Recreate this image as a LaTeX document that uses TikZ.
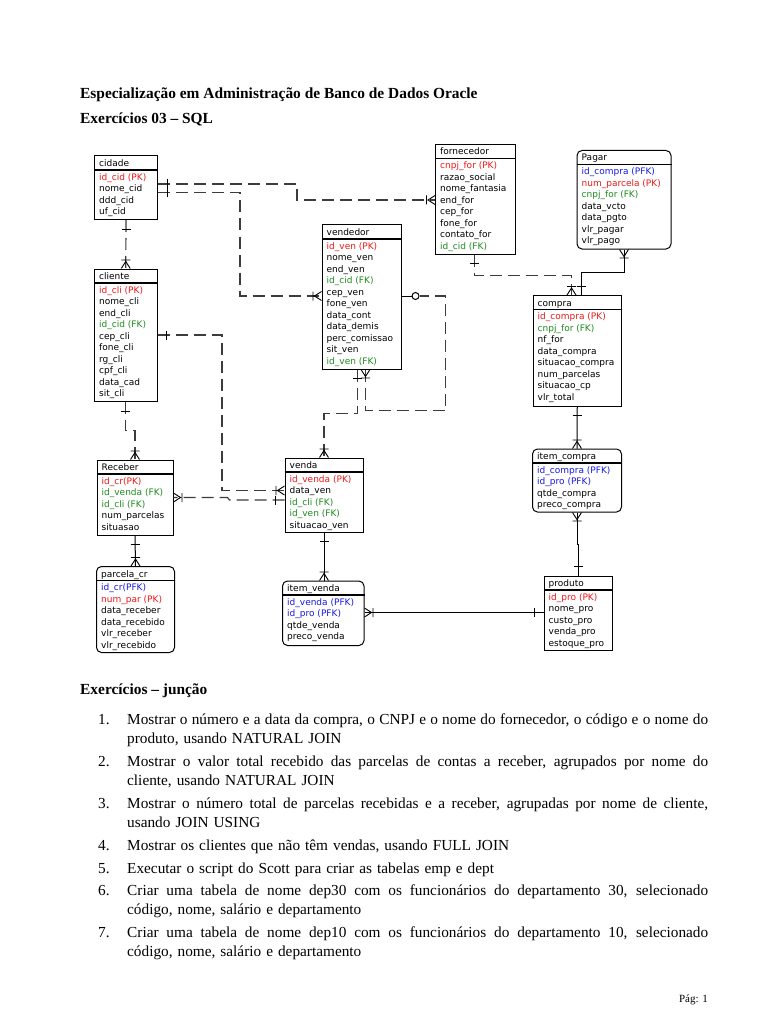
\documentclass[tikz,border=0pt]{standalone}
\usepackage{fontspec}
\setmainfont{Liberation Serif}
\newfontfamily\erfont{DejaVu Sans}
\usetikzlibrary{calc}
\definecolor{pkred}{RGB}{235,25,25}
\definecolor{fkgreen}{RGB}{30,140,30}
\definecolor{pfblue}{RGB}{25,25,225}
\definecolor{relgray}{RGB}{60,60,60}
\newcommand\pk[1]{\textcolor{pkred}{#1}}
\newcommand\fk[1]{\textcolor{fkgreen}{#1}}
\newcommand\pf[1]{\textcolor{pfblue}{#1}}
\newcommand\wl[2]{\makebox[#1pt][s]{#2}}
\newcommand\bodyfont{\fontsize{15.3}{19}\selectfont\spaceskip=5pt plus 3pt minus 2pt\relax}
\tikzset{
 ent/.style={draw=black,line width=1pt,inner sep=0pt,fill=white},
 rnd/.style={rounded corners=5pt},
 entline/.style={line width=1.1pt},
 hdr/.style={font=\erfont\fontsize{9}{11.5}\selectfont,inner sep=0pt},
 attrs/.style={font=\erfont\fontsize{9}{11.5}\selectfont,inner sep=0pt,align=left},
 dashrel/.style={draw=relgray,line width=1.2pt,dash pattern=on 12pt off 6pt},
 solidrel/.style={draw=black,line width=1pt},
 body/.style={font=\bodyfont,inner sep=0pt,anchor=base west},
 bodybold/.style={font=\bfseries\fontsize{15.4}{19}\selectfont,inner sep=0pt,anchor=base west},
 many/.pic={\draw[solid,line width=0.9pt,black] (0,-4.5) -- (-7,0) -- (0,4.5) (-8.5,-4.5) -- (-8.5,4.5);},
 one/.pic={\draw[solid,line width=0.9pt,black] (-9,-4.5) -- (-9,4.5);}
}
% #1 extra style, #2 name, #3 x, #4 y, #5 w, #6 h, #7 title, #8 rows
\newcommand\ERent[8][]{%
 \node[ent,#1,minimum width=#5pt,minimum height=#6pt,anchor=north west] (#2) at (#3,#4) {};
 \draw[entline] ($(#2.north west)+(0,14.5)$) -- ($(#2.north east)+(0,14.5)$);
 \node[hdr,anchor=base west] (#2-h) at ($(#2.north west)+(5,11)$) {#7};
 \node[attrs,anchor=north west] (#2-a) at ($(#2.north west)+(5,17.5)$) {\rule{0pt}{7pt}#8};
}
\begin{document}
\begin{tikzpicture}[x=1pt,y=-1pt]
\fill[white] (0,0) rectangle (768,1024);
\useasboundingbox (0,0) rectangle (768,1024);

% titles
\node[bodybold] (title1) at (80,98.5) {Especialização em Administração de Banco de Dados Oracle};
\node[bodybold] (title2) at (80,123.5) {Exercícios 03 – SQL};

% entities
\ERent{cidade}{94}{155.5}{63}{63.5}{cidade}{\pk{id\_cid (PK)}\\nome\_cid\\ddd\_cid\\uf\_cid}
\ERent{cliente}{94}{268.5}{62.5}{132.5}{cliente}{\pk{id\_cli (PK)}\\nome\_cli\\end\_cli\\\fk{id\_cid (FK)}\\cep\_cli\\fone\_cli\\rg\_cli\\cpf\_cli\\data\_cad\\sit\_cli}
\ERent{fornecedor}{435}{144}{80}{109.5}{fornecedor}{\pk{cnpj\_for (PK)}\\razao\_social\\nome\_fantasia\\end\_for\\cep\_for\\fone\_for\\contato\_for\\\fk{id\_cid (FK)}}
\ERent{vendedor}{321.5}{224.5}{79}{144}{vendedor}{\pk{id\_ven (PK)}\\nome\_ven\\end\_ven\\\fk{id\_cid (FK)}\\cep\_ven\\fone\_ven\\data\_cont\\data\_demis\\perc\_comissao\\sit\_ven\\\fk{id\_ven (FK)}}
\ERent[rnd]{pagar}{576.5}{150}{94}{98.5}{Pagar}{\pf{id\_compra (PFK)}\\\pk{num\_parcela (PK)}\\\fk{cnpj\_for (FK)}\\data\_vcto\\data\_pgto\\vlr\_pagar\\vlr\_pago}
\ERent{compra}{532.5}{295}{88.5}{110.5}{compra}{\pk{id\_compra (PK)}\\\fk{cnpj\_for (FK)}\\nf\_for\\data\_compra\\situacao\_compra\\num\_parcelas\\situacao\_cp\\vlr\_total}
\ERent{receber}{96.5}{459.5}{76}{75}{Receber}{\pk{id\_cr(PK)}\\\fk{id\_venda (FK)}\\\fk{id\_cli (FK)}\\num\_parcelas\\situasao}
\ERent[rnd]{parcela}{96}{566}{78}{86}{parcela\_cr}{\pf{id\_cr(PFK)}\\\pk{num\_par (PK)}\\data\_receber\\data\_recebido\\vlr\_receber\\vlr\_recebido}
\ERent{venda}{284.5}{457.5}{78}{74}{venda}{\pk{id\_venda (PK)}\\data\_ven\\\fk{id\_cli (FK)}\\\fk{id\_ven (FK)}\\situacao\_ven}
\ERent[rnd]{itemvenda}{282}{580.5}{81.5}{64.5}{item\_venda}{\pf{id\_venda (PFK)}\\\pf{id\_pro (PFK)}\\qtde\_venda\\preco\_venda}
\ERent[rnd]{itemcompra}{532}{448.5}{89}{63}{item\_compra}{\pf{id\_compra (PFK)}\\\pf{id\_pro (PFK)}\\qtde\_compra\\preco\_compra}
\ERent{produto}{543.5}{575.5}{68}{74}{produto}{\pk{id\_pro (PK)}\\nome\_pro\\custo\_pro\\venda\_pro\\estoque\_pro}

% cidade - fornecedor
\draw[dashrel] ($(cidade.north east)+(0,28.5)$) -- ++(139,0) |- ($(fornecedor.north west)+(0,56)$);
\path ($(cidade.north east)+(0,28.5)$) pic[rotate=180] {one};
\path ($(fornecedor.north west)+(0,56)$) pic {many};
% cidade - vendedor
\draw[dashrel] ($(cidade.north east)+(0,37)$) -- ++(82,0) |- ($(vendedor.north west)+(0,71.5)$);
\path ($(cidade.north east)+(0,37)$) pic[rotate=180] {one};
\path ($(vendedor.north west)+(0,71.5)$) pic {many};
% cidade - cliente
\draw[dashrel] (cidade.south) -- (cliente.north);
\path (cidade.south) pic[rotate=90] {one};
\path (cliente.north) pic[rotate=-90] {many};
% cliente - venda
\draw[dashrel] ($(cliente.north east)+(0,66.5)$) -- ++(64.5,0) |- ($(venda.north west)+(0,33)$);
\path ($(cliente.north east)+(0,66.5)$) pic[rotate=180] {one};
\path ($(venda.north west)+(0,33)$) pic {many};
% venda - receber
\draw[dashrel] ($(venda.north west)+(0,42.5)$) -- ++(-55,0) -- ++(-2,-2.5) -- ($(receber.north east)+(0,38)$);
\path ($(venda.north west)+(0,42.5)$) pic {one};
\path ($(receber.north east)+(0,38)$) pic[rotate=180] {many};
% cliente - receber
\draw[dashrel] (cliente.south) -- ++(0,28.5) -| (receber.north);
\path (cliente.south) pic[rotate=90] {one};
\path (receber.north) pic[rotate=-90] {many};
% receber - parcela
\draw[solidrel] (receber.south) -- (parcela.north);
\path (receber.south) pic[rotate=90] {one};
\path (parcela.north) pic[rotate=-90] {many};
% vendedor - venda
\draw[dashrel] ($(vendedor.south west)+(36,0)$) -- ++(0,44) -| (venda.north);
\path ($(vendedor.south west)+(36,0)$) pic[rotate=90] {one};
\path (venda.north) pic[rotate=-90] {many};
% vendedor self relation
\draw[dashrel] ($(vendedor.south west)+(44,0)$) -- ++(0,41) -- ++(80,0) |- ($(vendedor.north east)+(18,71.5)$);
\draw[solidrel] ($(vendedor.north east)+(0,71.5)$) -- ++(10.5,0);
\draw[solidrel,fill=white] ($(vendedor.north east)+(14,71.5)$) circle (3.5);
\path ($(vendedor.south west)+(44,0)$) pic[rotate=90] {many};
% fornecedor - compra
\draw[dashrel] ($(fornecedor.south west)+(39.5,0)$) -- ++(0,21) -| ($(compra.north west)+(39,0)$);
\path ($(fornecedor.south west)+(39.5,0)$) pic[rotate=90] {one};
\path ($(compra.north west)+(39,0)$) pic[rotate=-90] {many};
% compra - pagar
\draw[solidrel] ($(compra.north west)+(48.5,0)$) -- ++(0,-22.5) -| (pagar.south);
\path ($(compra.north west)+(48.5,0)$) pic[rotate=-90] {one};
\path (pagar.south) pic[rotate=90] {many};
% compra - item_compra
\draw[solidrel] (compra.south) -- (itemcompra.north);
\path (compra.south) pic[rotate=90] {one};
\path (itemcompra.north) pic[rotate=-90] {many};
% item_compra - produto
\draw[solidrel] (itemcompra.south) -- ++(0,32) -| (produto.north);
\path (itemcompra.south) pic[rotate=90] {many};
\path (produto.north) pic[rotate=-90] {one};
% venda - item_venda
\draw[solidrel] (venda.south) -- (venda.south |- itemvenda.north);
\path (venda.south) pic[rotate=90] {one};
\path (venda.south |- itemvenda.north) pic[rotate=-90] {many};
% produto - item_venda
\draw[solidrel] ($(itemvenda.north east)+(0,32)$) -- ($(produto.north west)+(0,37)$);
\path ($(itemvenda.north east)+(0,32)$) pic[rotate=180] {many};
\path ($(produto.north west)+(0,37)$) pic {one};

% exercises
\node[bodybold] (exj) at (80,694) {Exercícios – junção};
\node[body] (n1) at (98,724.5) {1.};
\node[body] (q1a) at (127,724.5) {\wl{581}{Mostrar o número e a data da compra, o CNPJ e o nome do fornecedor, o código e o nome do}};
\node[body] (q1b) at (127,743.5) {produto, usando NATURAL JOIN};
\node[body] (n2) at (98,766.5) {2.};
\node[body] (q2a) at (127,766.5) {\wl{581}{Mostrar o valor total recebido das parcelas de contas a receber, agrupados por nome do}};
\node[body] (q2b) at (127,785.5) {cliente, usando NATURAL JOIN};
\node[body] (n3) at (98,808.5) {3.};
\node[body] (q3a) at (127,808.5) {\wl{581}{Mostrar o número total de parcelas recebidas e a receber, agrupadas por nome de cliente,}};
\node[body] (q3b) at (127,827.5) {usando JOIN USING};
\node[body] (n4) at (98,850.5) {4.};
\node[body] (q4a) at (127,850.5) {Mostrar os clientes que não têm vendas, usando FULL JOIN};
\node[body] (n5) at (98,873.5) {5.};
\node[body] (q5a) at (127,873.5) {Executar o script do Scott para criar as tabelas emp e dept};
\node[body] (n6) at (98,895.5) {6.};
\node[body] (q6a) at (127,895.5) {\wl{581}{Criar uma tabela de nome dep30 com os funcionários do departamento 30, selecionado}};
\node[body] (q6b) at (127,914.5) {código, nome, salário e departamento};
\node[body] (n7) at (98,937.5) {7.};
\node[body] (q7a) at (127,937.5) {\wl{581}{Criar uma tabela de nome dep10 com os funcionários do departamento 10, selecionado}};
\node[body] (q7b) at (127,956.5) {código, nome, salário e departamento};
\node[font=\fontsize{11}{13}\selectfont,inner sep=0pt,anchor=base east] (pg) at (708,1002.5) {Pág: 1};
\end{tikzpicture}
\end{document}
